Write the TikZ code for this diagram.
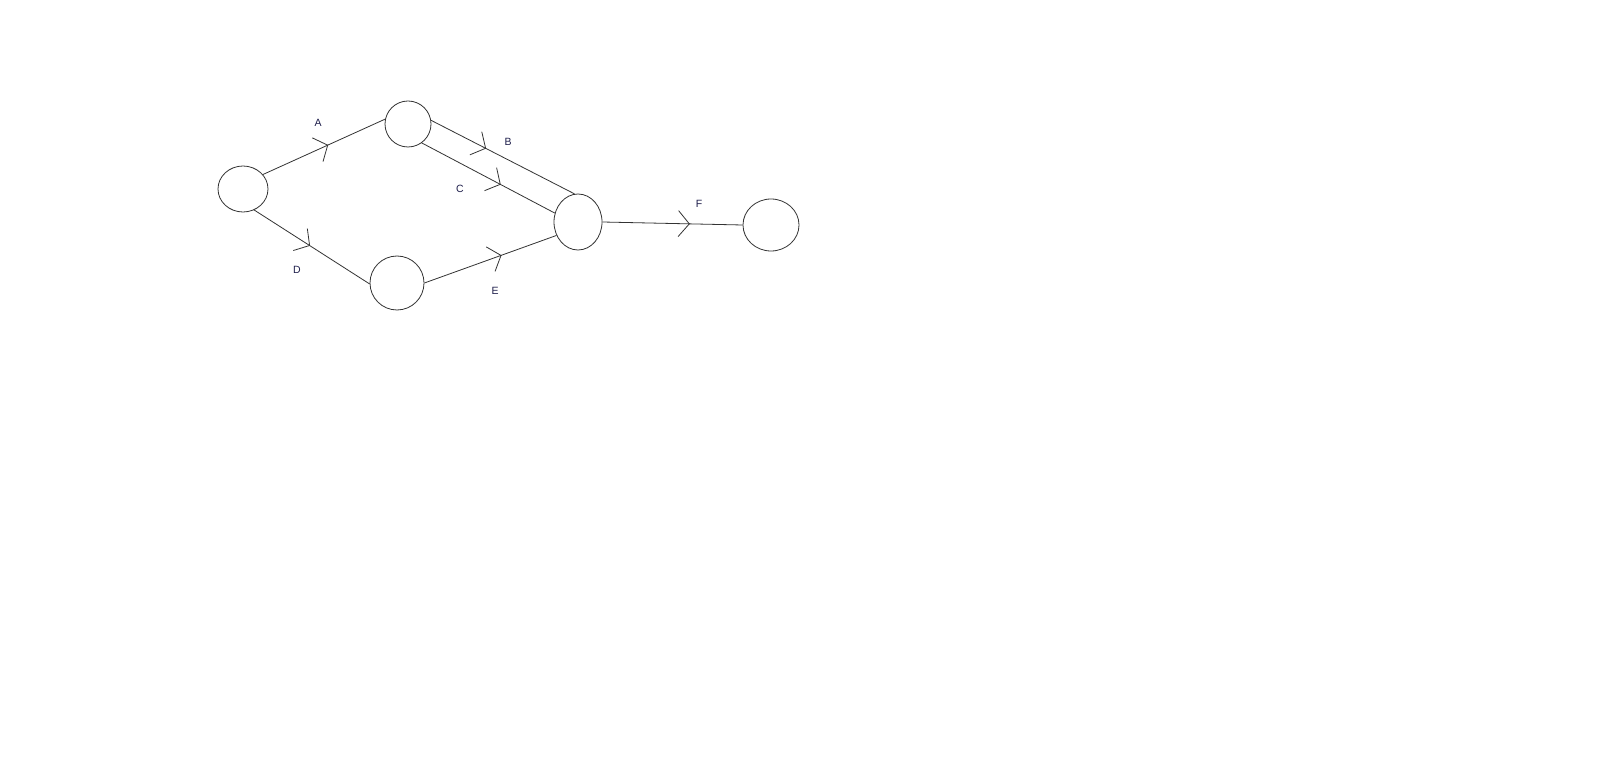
\documentclass[tikz,border=0pt]{standalone}
\usepackage{fontspec}
\setmainfont{Liberation Sans}
\usepackage{tikz}
\usetikzlibrary{shapes.geometric,decorations.markings}
\definecolor{labcol}{RGB}{30,30,75}
\tikzset{
  ev/.style={draw=black!80,ellipse,inner sep=0pt,line width=0.8pt},
  lab/.style={font=\fontsize{10.5}{12}\selectfont,text=labcol,inner sep=0pt},
  barb/.style={postaction={decorate},decoration={markings,mark=at position #1 with {\draw[line width=0.8pt] (-11pt,13pt)--(0pt,0pt)--(-11pt,-13pt);}}}
}
\begin{document}
\begin{tikzpicture}[x=1pt,y=-1pt,line width=0.8pt,draw=black!80]

\useasboundingbox[fill=white](0,0) rectangle (1600,783);

\node[ev,minimum width=50pt,minimum height=46pt](v1) at (243,189){};
\node[ev,minimum width=46pt,minimum height=46pt](v2) at (408,124){};
\node[ev,minimum width=54pt,minimum height=54pt](v3) at (397,283){};
\node[ev,minimum width=48pt,minimum height=56pt](v4) at (578,222){};
\node[ev,minimum width=56pt,minimum height=52pt](v5) at (771,225){};

\draw[barb=0.53](v1.36)--(v2.168);
\draw[barb=0.38](v2.9)--(v4.97);
\draw[barb=0.59](v2.-54)--(v4.159);
\draw[barb=0.48](v1.-62)--(v3.182);
\draw[barb=0.58](v3.0)--(v4.212);
\draw[barb=0.62](v4.0)--(v5.180);

\node[lab](la) at (318,123){A};
\node[lab](lb) at (508,142){B};
\node[lab](lc) at (460,189){C};
\node[lab](ld) at (297,270){D};
\node[lab](le) at (495,291){E};
\node[lab](lf) at (699,204){F};

\end{tikzpicture}
\end{document}
